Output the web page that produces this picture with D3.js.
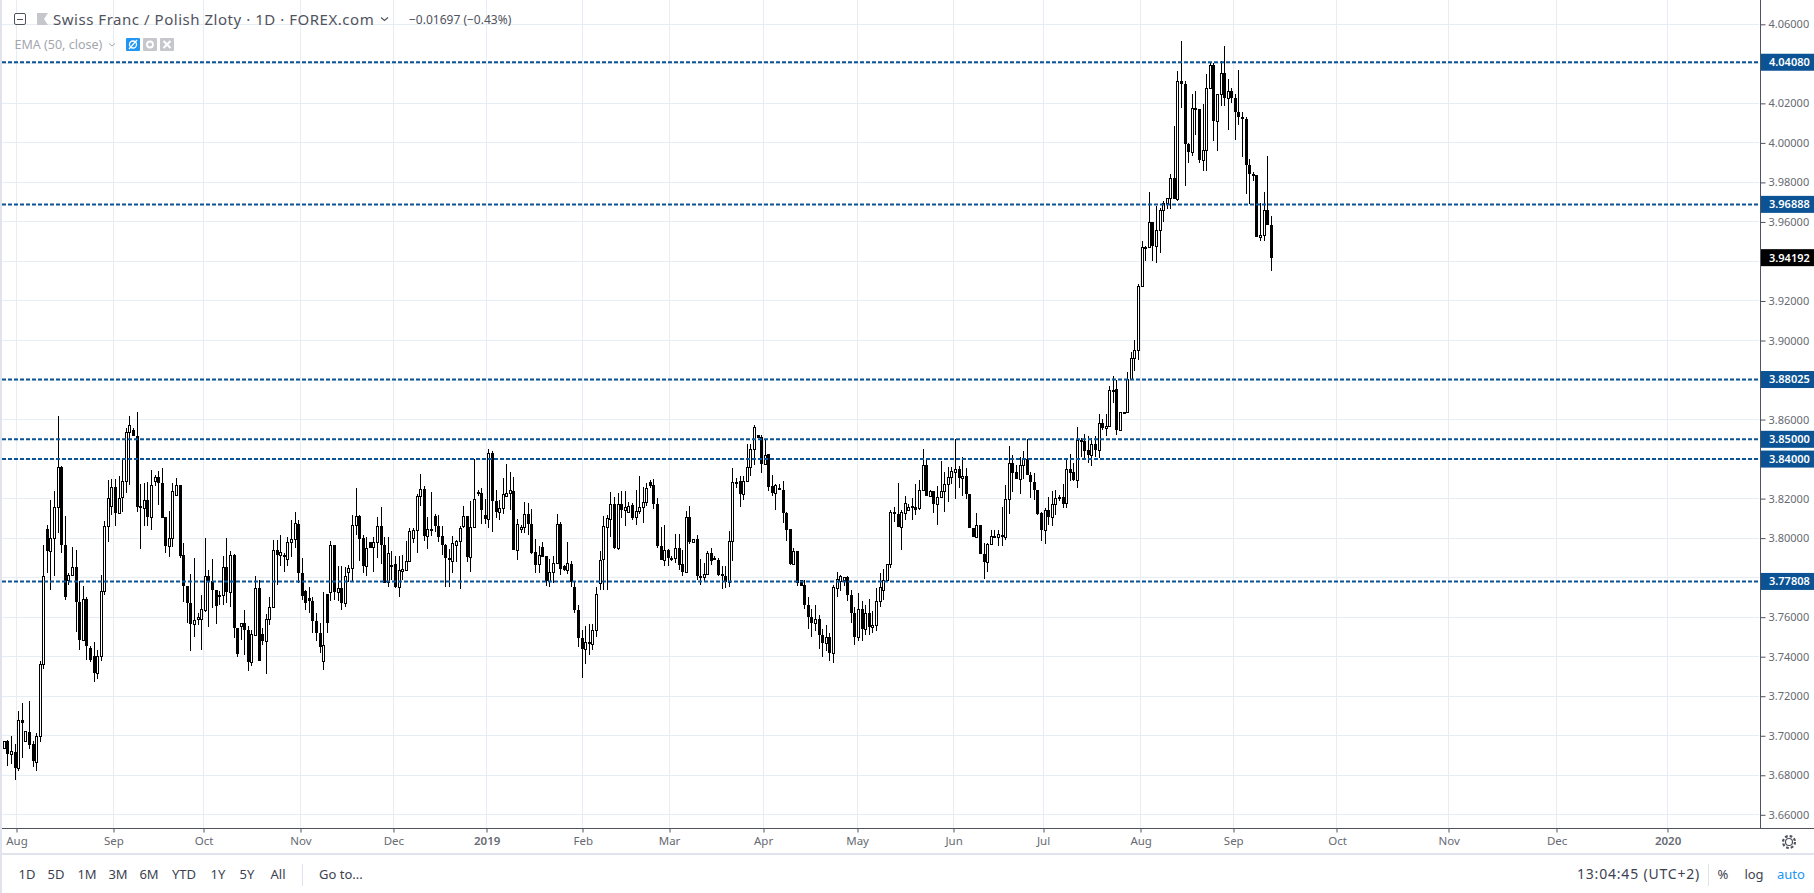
<!DOCTYPE html>
<html>
<head>
<meta charset="utf-8">
<title>CHF/PLN</title>
<script src="https://cdn.jsdelivr.net/npm/d3@7"></script>
<style>
html, body { margin: 0; padding: 0; background: #fff; overflow: hidden; }
text { font-family: "Noto Sans", sans-serif; }
</style>
</head>
<body>
<svg id="chart" width="1814" height="893"></svg>
<script>
// daily candles
var opens = [
3.6938,3.6971,3.6907,3.6919,3.6836,3.7081,3.6975,3.7020,3.6956,3.6867,
3.6997,3.7362,3.8046,3.7933,3.8000,3.8157,3.8359,3.7965,3.7789,3.7811,
3.7853,3.7679,3.7482,3.7691,3.7443,3.7404,3.7317,3.7404,3.7730,3.8059,
3.8165,3.8258,3.8127,3.8207,3.8287,3.8535,3.8548,3.8515,3.8164,3.8152,
3.8194,3.8106,3.8288,3.8309,3.8278,3.8106,3.7958,3.8000,3.8218,3.8270,
3.7914,3.7760,3.7674,3.7565,3.7593,3.7593,3.7634,3.7806,3.7781,3.7735,
3.7710,3.7710,3.7853,3.7725,3.7914,3.7544,3.7553,3.7570,3.7536,3.7371,
3.7511,3.7747,3.7516,3.7477,3.7590,3.7654,3.7941,3.7914,3.7914,3.7894,
3.7980,3.7995,3.8070,
3.7823,3.7733,3.7696,3.7680,3.7580,3.7520,3.7380,3.7718,3.7725,3.7963,
3.7725,3.7747,3.7671,3.7831,3.7848,3.8066,3.8113,3.8000,3.7857,3.7978,
3.7954,3.7978,3.8062,3.7966,3.7779,3.7860,3.7868,3.7752,3.7836,3.7840,
3.7884,3.8000,3.8042,3.8211,3.8250,3.8013,3.8046,3.8113,3.8062,3.8012,
3.7966,3.7899,3.7882,3.7963,3.7983,3.8059,3.8113,3.7907,3.8056,3.8228,
3.8228,3.8118,3.8096,3.8430,3.8189,3.8130,3.8152,3.8214,3.8228,3.8238,
3.7941,3.8046,3.8056,3.8121,3.8073,3.7931,3.7867,3.7954,3.7911,3.7782,
3.7830,3.7873,3.8071,3.7860,3.7840,3.7868,3.7755,3.7637,3.7495,3.7440,
3.7475,3.7465,3.7535,3.7772,
3.7894,3.8056,3.8096,3.8172,3.7951,3.8172,3.8140,3.8132,3.8169,3.8106,
3.8135,3.8160,3.8181,3.8283,3.8270,3.8172,3.7958,3.7887,3.7941,3.7900,
3.7899,3.7949,3.7870,3.7831,3.8106,3.7978,3.7995,3.7806,3.7803,3.7818,
3.7924,3.7899,3.7890,3.7819,3.7806,3.7776,3.7983,3.8286,3.8287,3.8223,
3.8287,3.8359,3.8450,3.8521,3.8511,3.8373,3.8425,3.8265,3.8228,3.8253,
3.8245,3.8127,3.8046,3.7870,3.7936,3.7786,3.7764,
3.7660,3.7600,3.7570,3.7590,3.7510,3.7470,3.7500,3.7420,3.7747,3.7781,
3.7789,3.7801,3.7713,3.7620,3.7500,3.7640,3.7540,3.7620,3.7550,3.7560,
3.7680,
3.7735,3.7786,3.7868,3.8132,3.8123,3.8056,3.8127,3.8143,3.8157,3.8160,
3.8150,3.8241,3.8369,3.8211,3.8240,3.8172,3.8207,3.8236,3.8273,3.8309,
3.8337,3.8349,3.8304,3.8315,3.8223,3.8051,3.8008,3.8066,3.7919,3.7877,
3.7970,3.8013,3.8005,3.8012,3.8008,3.8197,3.8380,3.8336,3.8299,3.8369,
3.8400,3.8321,3.8282,3.8245,3.8127,3.8042,3.8143,3.8105,3.8172,3.8206,
3.8207,3.8177,3.8349,3.8336,3.8292,3.8498,3.8489,3.8447,3.8422,3.8477,
3.8444,3.8582,3.8557,3.8565,3.8747,3.8754,3.8545,3.8638,3.8638,3.8806,
3.8911,3.8953,
3.9275,3.9472,3.9475,3.9600,3.9477,3.9560,3.9661,3.9696,
3.9722,3.9823,3.9717,4.0312,4.0299,3.9995,3.9953,4.0177,4.0172,3.9911,
3.9965,4.0278,4.0396,4.0113,4.0245,4.0354,4.0226,4.0261,4.0226,4.0155,
4.0133,4.0121,3.9889,3.9843,3.9835,3.9523,3.9534,3.9661,3.9585];

var highs = [
3.6975,3.6980,3.6997,3.6960,3.7123,3.7164,3.7025,3.7174,3.6971,3.7012,
3.7376,3.7966,3.8066,3.8194,3.8240,3.8619,3.8363,3.8113,3.7823,3.7954,
3.7941,3.7781,3.7759,3.7701,3.7452,3.7475,3.7435,3.7814,3.8086,3.8295,
3.8299,3.8299,3.8312,3.8405,3.8557,3.8619,3.8557,3.8639,3.8275,3.8278,
3.8282,3.8346,3.8321,3.8341,3.8356,3.8106,3.8137,3.8278,3.8305,3.8270,
3.7975,3.7760,3.7820,3.7899,3.7620,3.7713,3.8000,3.7840,3.7894,3.7735,
3.7730,3.7911,3.8000,3.7936,3.7921,3.7544,3.7573,3.7637,3.7556,3.7536,
3.7809,3.7789,3.7545,3.7615,3.7701,3.7992,3.7992,3.8017,3.7924,3.8005,
3.8093,3.8133,3.8093,
3.7899,3.7738,3.7755,3.7700,3.7620,3.7570,3.7727,3.7718,3.7983,3.7963,
3.7857,3.7857,3.7853,3.7865,3.8118,3.8255,3.8118,3.8017,3.8005,3.7978,
3.8005,3.8106,3.8160,3.8005,3.8005,3.7933,3.7911,3.7911,3.7916,3.7987,
3.8051,3.8049,3.8224,3.8326,3.8265,3.8106,3.8234,3.8123,3.8118,3.8062,
3.7971,3.7944,3.8012,3.7992,3.8059,3.8164,3.8113,3.8189,3.8402,3.8241,
3.8253,3.8197,3.8450,3.8439,3.8245,3.8194,3.8304,3.8376,3.8336,3.8309,
3.8096,3.8067,3.8184,3.8177,3.8148,3.7997,3.7961,3.7978,3.7911,3.7894,
3.7911,3.8121,3.8081,3.7863,3.7978,3.7885,3.7781,3.7660,3.7533,3.7553,
3.7565,3.7565,3.7755,3.7936,
3.8110,3.8118,3.8233,3.8207,3.8228,3.8236,3.8236,3.8181,3.8177,3.8245,
3.8315,3.8258,3.8278,3.8295,3.8299,3.8202,3.8054,3.8067,3.7944,3.7912,
3.8022,3.8022,3.7941,3.8135,3.8164,3.7995,3.8015,3.7894,3.7873,3.7933,
3.7949,3.7911,3.7899,3.7857,3.7860,3.8034,3.8354,3.8304,3.8315,3.8315,
3.8476,3.8477,3.8574,3.8521,3.8521,3.8494,3.8425,3.8320,3.8273,3.8273,
3.8290,3.8132,3.8046,3.7949,3.7936,3.7786,3.7786,
3.7700,3.7640,3.7660,3.7610,3.7540,3.7560,3.7520,3.7764,3.7828,3.7814,
3.7805,3.7806,3.7740,3.7650,3.7720,3.7680,3.7660,3.7690,3.7630,3.7750,
3.7823,
3.7843,3.7870,3.8140,3.8157,3.8278,3.8140,3.8214,3.8174,3.8202,3.8273,
3.8295,3.8452,3.8405,3.8245,3.8240,3.8265,3.8391,3.8337,3.8359,3.8358,
3.8501,3.8363,3.8410,3.8354,3.8223,3.8051,3.8127,3.8066,3.7975,3.7975,
3.8042,3.8042,3.8042,3.8157,3.8270,3.8464,3.8422,3.8371,3.8413,3.8439,
3.8501,3.8337,3.8329,3.8245,3.8130,3.8152,3.8206,3.8236,3.8241,3.8219,
3.8273,3.8393,3.8427,3.8380,3.8562,3.8506,3.8528,3.8515,3.8506,3.8515,
3.8628,3.8602,3.8628,3.8771,3.8818,3.8801,3.8638,3.8638,3.8840,3.8941,
3.9004,3.9285,
3.9501,3.9480,3.9752,3.9600,3.9683,3.9669,3.9708,3.9722,
3.9840,4.0083,4.0366,4.0513,4.0315,3.9998,4.0245,4.0260,4.0172,4.0197,
4.0346,4.0405,4.0405,4.0248,4.0413,4.0488,4.0324,4.0278,4.0245,4.0369,
4.0155,4.0133,3.9916,3.9855,3.9835,3.9695,3.9752,3.9934,3.9632];

var lows = [
3.6934,3.6846,3.6855,3.6774,3.6821,3.6885,3.6966,3.6933,3.6841,3.6821,
3.6966,3.7339,3.7823,3.7739,3.7809,3.8025,3.7927,3.7688,3.7764,3.7811,
3.7523,3.7435,3.7482,3.7384,3.7371,3.7270,3.7286,3.7376,3.7713,3.7978,
3.8118,3.8059,3.8127,3.8130,3.8228,3.8270,3.8515,3.8130,3.7944,3.8062,
3.8062,3.8042,3.8265,3.8169,3.8100,3.7924,3.7907,3.7954,3.8218,3.7899,
3.7679,3.7570,3.7431,3.7502,3.7558,3.7435,3.7624,3.7548,3.7646,3.7565,
3.7663,3.7663,3.7671,3.7654,3.7494,3.7398,3.7485,3.7410,3.7330,3.7354,
3.7511,3.7376,3.7460,3.7313,3.7561,3.7654,3.7764,3.7857,3.7831,3.7857,
3.7907,3.7949,3.7772,
3.7688,3.7637,3.7620,3.7520,3.7480,3.7420,3.7335,3.7520,3.7680,3.7688,
3.7680,3.7637,3.7650,3.7776,3.7776,3.8017,3.7882,3.7823,3.7809,3.7949,
3.7831,3.7899,3.7870,3.7772,3.7752,3.7789,3.7747,3.7700,3.7786,3.7840,
3.7884,3.7975,3.7927,3.8164,3.7987,3.7946,3.8013,3.8029,3.7978,3.7916,
3.7755,3.7752,3.7826,3.7877,3.7744,3.8051,3.7877,3.7831,3.8056,3.8211,
3.8071,3.8073,3.8051,3.8029,3.8101,3.8093,3.8123,3.8211,3.8140,3.7941,
3.7887,3.8025,3.8025,3.8017,3.7921,3.7826,3.7826,3.7907,3.7760,3.7755,
3.7772,3.7873,3.7814,3.7836,3.7819,3.7755,3.7620,3.7447,3.7290,3.7362,
3.7410,3.7435,3.7500,3.7739,
3.7739,3.7739,3.8008,3.7946,3.7941,3.8101,3.8059,3.8127,3.8093,3.8064,
3.8121,3.8079,3.8164,3.8256,3.8147,3.7949,3.7887,3.7857,3.7857,3.7885,
3.7873,3.7840,3.7806,3.7826,3.7971,3.7975,3.7786,3.7764,3.7784,3.7818,
3.7865,3.7887,3.7806,3.7745,3.7750,3.7755,3.7882,3.8253,3.8155,3.8191,
3.8287,3.8315,3.8371,3.8506,3.8332,3.8373,3.8236,3.8211,3.8143,3.8241,
3.8079,3.7983,3.7865,3.7865,3.7759,3.7759,3.7640,
3.7540,3.7500,3.7530,3.7440,3.7400,3.7430,3.7380,3.7370,3.7700,3.7730,
3.7760,3.7680,3.7570,3.7460,3.7480,3.7480,3.7510,3.7510,3.7520,3.7530,
3.7654,
3.7688,3.7786,3.7848,3.8084,3.8056,3.7938,3.8093,3.8135,3.8093,3.8118,
3.8140,3.8241,3.8211,3.8211,3.8127,3.8064,3.8207,3.8130,3.8181,3.8273,
3.8197,3.8253,3.8214,3.8197,3.8051,3.8005,3.8005,3.7919,3.7792,3.7831,
3.7970,3.8005,3.7958,3.7958,3.7992,3.8123,3.8231,3.8299,3.8224,3.8299,
3.8319,3.8201,3.8194,3.8118,3.7983,3.7970,3.8067,3.8059,3.8118,3.8186,
3.8152,3.8152,3.8287,3.8287,3.8256,3.8413,3.8400,3.8380,3.8366,3.8410,
3.8405,3.8548,3.8515,3.8562,3.8683,3.8523,3.8540,3.8633,3.8638,3.8806,
3.8844,3.8903,
3.9275,3.9401,3.9470,3.9404,3.9393,3.9442,3.9598,3.9663,
3.9666,3.9717,3.9708,4.0175,3.9784,3.9897,3.9936,4.0042,3.9897,3.9860,
3.9857,4.0278,4.0012,3.9958,4.0189,4.0189,4.0067,4.0201,4.0017,4.0088,
3.9927,3.9742,3.9691,3.9809,3.9523,3.9506,3.9502,3.9582,3.9351];

var closes = [
3.6971,3.6907,3.6921,3.6836,3.7081,3.7064,3.7025,3.6953,3.6872,3.6997,
3.7362,3.7806,3.7933,3.8000,3.8157,3.8359,3.7965,3.7700,3.7811,3.7853,
3.7679,3.7482,3.7691,3.7452,3.7381,3.7317,3.7404,3.7730,3.8059,3.8202,
3.8258,3.8127,3.8202,3.8287,3.8535,3.8570,3.8515,3.8160,3.8150,3.8191,
3.8106,3.8270,3.8309,3.8278,3.8100,3.7958,3.8000,3.8236,3.8268,3.7911,
3.7760,3.7674,3.7565,3.7587,3.7602,3.7641,3.7806,3.7781,3.7735,3.7659,
3.7706,3.7853,3.7725,3.7914,3.7544,3.7415,3.7570,3.7533,3.7371,3.7516,
3.7747,3.7376,3.7477,3.7590,3.7651,3.7941,3.7917,3.7929,3.7907,3.7980,
3.7995,3.8076,3.7823,
3.7705,3.7671,3.7680,3.7580,3.7520,3.7450,3.7460,3.7570,3.7963,3.7725,
3.7747,3.7671,3.7806,3.7848,3.8066,3.8113,3.7998,3.7857,3.7949,3.7949,
3.7978,3.8059,3.7963,3.7772,3.7924,3.7863,3.7752,3.7840,3.7846,3.7884,
3.8035,3.8042,3.8214,3.8250,3.8013,3.8046,3.8047,3.8059,3.8008,3.7963,
3.7899,3.7894,3.7975,3.7983,3.8051,3.8113,3.7907,3.8056,3.8197,3.8233,
3.8140,3.8096,3.8430,3.8186,3.8130,3.8152,3.8223,3.8228,3.8243,3.7941,
3.8071,3.8056,3.8121,3.8071,3.7927,3.7865,3.7914,3.7907,3.7782,3.7830,
3.7873,3.8071,3.7843,3.7840,3.7873,3.7779,3.7637,3.7495,3.7440,3.7475,
3.7465,3.7535,3.7718,3.7890,
3.8059,3.8101,3.8172,3.7951,3.8172,3.8140,3.8160,3.8165,3.8103,3.8135,
3.8160,3.8181,3.8253,3.8265,3.8172,3.7958,3.7887,3.7941,3.7900,3.7899,
3.7948,3.7865,3.7831,3.8106,3.7978,3.7995,3.7806,3.7803,3.7820,3.7924,
3.7882,3.7887,3.7814,3.7806,3.7776,3.7983,3.8283,3.8283,3.8224,3.8287,
3.8359,3.8450,3.8562,3.8509,3.8373,3.8420,3.8261,3.8228,3.8270,3.8241,
3.8125,3.8042,3.7870,3.7936,3.7772,3.7760,3.7660,
3.7600,3.7570,3.7590,3.7510,3.7470,3.7500,3.7420,3.7755,3.7793,3.7806,
3.7801,3.7713,3.7620,3.7500,3.7640,3.7540,3.7620,3.7550,3.7560,3.7680,
3.7755,
3.7786,3.7870,3.8132,3.8120,3.8056,3.8130,3.8177,3.8155,3.8162,3.8143,
3.8241,3.8369,3.8211,3.8236,3.8172,3.8207,3.8236,3.8273,3.8309,3.8341,
3.8348,3.8302,3.8312,3.8223,3.8051,3.8008,3.8066,3.7919,3.7877,3.7970,
3.8013,3.8005,3.8019,3.8017,3.8197,3.8380,3.8332,3.8299,3.8369,3.8400,
3.8319,3.8282,3.8241,3.8123,3.8042,3.8143,3.8105,3.8174,3.8202,3.8204,
3.8174,3.8349,3.8332,3.8292,3.8498,3.8486,3.8442,3.8422,3.8476,3.8444,
3.8582,3.8557,3.8569,3.8747,3.8751,3.8545,3.8638,3.8636,3.8806,3.8911,
3.8953,3.9278,
3.9472,3.9475,3.9600,3.9477,3.9560,3.9661,3.9696,3.9722,
3.9823,3.9717,4.0312,4.0299,3.9995,3.9953,4.0177,4.0170,3.9911,3.9965,
4.0278,4.0396,4.0113,4.0245,4.0354,4.0226,4.0261,4.0226,4.0155,4.0130,
4.0121,3.9889,3.9843,3.9831,3.9523,3.9534,3.9661,3.9582,3.9416];

var priceTicks = [4.06,4.04,4.02,4.00,3.98,3.96,3.94,3.92,3.90,3.88,3.86,3.84,3.82,3.80,3.78,3.76,3.74,3.72,3.70,3.68,3.66];
var levels = [4.0408, 3.96888, 3.88025, 3.85, 3.84, 3.77808];
var lastPrice = 3.94192;

// month starts, in bar numbers
var tickBars = [3.4,30.4,55.5,82.5,108.4,134.4,161.2,185.2,211.4,237.6,264.5,289.4,316.6,342.4,371.3,402.4,432.5,463.4];
var tickLabels = ["Aug","Sep","Oct","Nov","Dec","2019","Feb","Mar","Apr","May","Jun","Jul","Aug","Sep","Oct","Nov","Dec","2020"];

var ranges = ["1D","5D","1M","3M","6M","YTD","1Y","5Y","All"];
var rangeX = [27,56,87,118,149,184,218,247,278];

var svg = d3.select("#chart");
var plotRight = 1759, axisX = 1761, axisY = 829;

var x = d3.scaleLinear().domain([0, opens.length - 1]).range([4.3, 1271.3]);
var y = d3.scaleLinear().domain([4.06, 3.66]).range([24.3, 814.8]);
var snap = function (v) { return Math.floor(v) + 0.5; };

// grid
var grid = svg.append("g").attr("stroke", "#e6edf4").attr("stroke-width", 1);
grid.selectAll(".h").data(priceTicks).enter().append("line")
	.attr("x1", 2).attr("x2", plotRight)
	.attr("y1", d => snap(y(d))).attr("y2", d => snap(y(d)));
grid.selectAll(".v").data(tickBars).enter().append("line")
	.attr("x1", d => snap(x(d))).attr("x2", d => snap(x(d)))
	.attr("y1", 0).attr("y2", axisY);

// candles
var bars = svg.append("g").attr("shape-rendering", "crispEdges");
opens.forEach(function (open, i) {
	var cx = Math.floor(x(i));
	var top = Math.round(y(Math.max(open, closes[i])));
	var bottom = Math.round(y(Math.min(open, closes[i])));
	bars.append("rect").attr("x", cx).attr("width", 1)
		.attr("y", Math.round(y(highs[i])))
		.attr("height", Math.max(1, Math.round(y(lows[i])) - Math.round(y(highs[i]))))
		.attr("fill", "#000");
	if (closes[i] >= open) {
		bars.append("rect").attr("x", cx - 0.5).attr("width", 2)
			.attr("y", top + 0.5).attr("height", Math.max(1, bottom - top))
			.attr("fill", "#fff").attr("stroke", "#000");
	} else {
		bars.append("rect").attr("x", cx - 1).attr("width", 3)
			.attr("y", top).attr("height", Math.max(2, bottom - top))
			.attr("fill", "#000");
	}
});

// horizontal levels
svg.append("g").selectAll("line").data(levels).enter().append("line")
	.attr("x1", 2).attr("x2", plotRight)
	.attr("y1", d => y(d)).attr("y2", d => y(d))
	.attr("stroke", "#0b5394").attr("stroke-width", 2).attr("stroke-dasharray", "4 2");

// price axis, ticks under a price label are not shown
var labelled = levels.concat([lastPrice]);
var shownTicks = priceTicks.filter(t => !labelled.some(l => Math.abs(y(l) - y(t)) < 9));
var yAxis = d3.axisRight(y).tickValues(shownTicks).tickFormat(d3.format(".5f")).tickSize(5).tickPadding(3).tickSizeOuter(0);
var yg = svg.append("g").attr("transform", "translate(" + (axisX - 0.5) + ",0)").call(yAxis);
yg.select(".domain").remove();
yg.selectAll("line").attr("stroke", "#50535e");
yg.selectAll("text").attr("fill", "#666a72").attr("font-size", 11);
svg.append("line").attr("x1", axisX - 0.5).attr("x2", axisX - 0.5).attr("y1", 0).attr("y2", axisY)
	.attr("stroke", "#50535e").attr("stroke-width", 1);

// price labels
function priceLabel(value, color) {
	var g = svg.append("g").attr("transform", "translate(" + axisX + "," + y(value) + ")");
	g.append("rect").attr("x", 0).attr("y", -8.5).attr("width", 53).attr("height", 17).attr("fill", color);
	g.append("text").attr("x", 8).attr("dy", "0.35em").attr("font-size", 11).attr("font-weight", 600).attr("fill", "#fff")
		.text(d3.format(".5f")(value));
}
levels.forEach(function (d) { priceLabel(d, "#0b5394"); });
priceLabel(lastPrice, "#000");

// time axis
var xAxis = d3.axisBottom(x).tickValues(tickBars).tickFormat(function (d, i) { return tickLabels[i]; }).tickSize(4).tickPadding(4).tickSizeOuter(0);
var xg = svg.append("g").attr("transform", "translate(0," + (axisY - 0.5) + ")").call(xAxis);
xg.select(".domain").remove();
xg.selectAll("line").attr("stroke", "#50535e").attr("x1", d => snap(x(d)) - x(d)).attr("x2", d => snap(x(d)) - x(d));
xg.selectAll("text").attr("fill", "#666a72").attr("font-size", 11.5)
	.attr("font-weight", (d, i) => tickLabels[i] == "2019" || tickLabels[i] == "2020" ? 600 : 400);
svg.append("line").attr("x1", 2).attr("x2", 1814).attr("y1", axisY - 0.5).attr("y2", axisY - 0.5).attr("stroke", "#50535e");

// frame
svg.append("rect").attr("x", 0).attr("y", 0).attr("width", 2).attr("height", 893).attr("fill", "#e0e3eb");
svg.append("rect").attr("x", 0).attr("y", 853).attr("width", 1814).attr("height", 2).attr("fill", "#e0e3eb");

// legend
svg.append("rect").attr("x", 14.5).attr("y", 13.5).attr("width", 11).attr("height", 11).attr("rx", 1.5)
	.attr("fill", "#fff").attr("stroke", "#50535e");
svg.append("line").attr("x1", 17).attr("x2", 23).attr("y1", 19.5).attr("y2", 19.5).attr("stroke", "#50535e");
svg.append("path").attr("d", "M37 13H48L44 19L48 25H37Z").attr("fill", "#c5c7cd");
svg.append("text").attr("x", 53).attr("y", 24.5).attr("font-size", 15).attr("letter-spacing", 0.53).attr("fill", "#50535e").text("Swiss Franc / Polish Zloty · 1D · FOREX.com");
svg.append("path").attr("d", "M381 17.5L384.5 20.5L388 17.5").attr("fill", "none").attr("stroke", "#50535e").attr("stroke-width", 1.2);
svg.append("text").attr("x", 409).attr("y", 24).attr("font-size", 12).attr("fill", "#50535e").text("−0.01697 (−0.43%)");
svg.append("text").attr("x", 14.5).attr("y", 49).attr("font-size", 12.5).attr("fill", "#a3a6af").text("EMA (50, close)");
svg.append("path").attr("d", "M109 43.5L112 46L115 43.5").attr("fill", "none").attr("stroke", "#a3a6af");

// legend buttons
svg.append("rect").attr("x", 126).attr("y", 38).attr("width", 14).attr("height", 13).attr("rx", 1).attr("fill", "#2196f3");
svg.append("circle").attr("cx", 133).attr("cy", 44.5).attr("r", 3.5).attr("fill", "none").attr("stroke", "#fff").attr("stroke-width", 1.3);
svg.append("line").attr("x1", 129).attr("x2", 137).attr("y1", 49).attr("y2", 40).attr("stroke", "#fff").attr("stroke-width", 1.2);
svg.append("rect").attr("x", 143).attr("y", 38).attr("width", 14).attr("height", 13).attr("rx", 1).attr("fill", "#c5c7cd");
svg.append("circle").attr("cx", 150).attr("cy", 44.5).attr("r", 3).attr("fill", "none").attr("stroke", "#fff").attr("stroke-width", 1.8);
svg.append("rect").attr("x", 160).attr("y", 38).attr("width", 14).attr("height", 13).attr("rx", 1).attr("fill", "#c5c7cd");
svg.append("path").attr("d", "M163.5 41L170.5 48M170.5 41L163.5 48").attr("stroke", "#fff").attr("stroke-width", 2);

// bottom toolbar
var bar = svg.append("g").attr("font-size", 13).attr("fill", "#3d4250");
ranges.forEach(function (r, i) {
	bar.append("text").attr("x", rangeX[i]).attr("y", 879).attr("text-anchor", "middle").text(r);
});
svg.append("line").attr("x1", 302.5).attr("x2", 302.5).attr("y1", 864).attr("y2", 886).attr("stroke", "#e0e3eb");
bar.append("text").attr("x", 319).attr("y", 879).text("Go to...");
bar.append("text").attr("x", 1700).attr("y", 879).attr("text-anchor", "end").attr("font-size", 14).attr("letter-spacing", 0.8).text("13:04:45 (UTC+2)");
svg.append("line").attr("x1", 1708.5).attr("x2", 1708.5).attr("y1", 864).attr("y2", 886).attr("stroke", "#e0e3eb");
bar.append("text").attr("x", 1723).attr("y", 879).attr("text-anchor", "middle").text("%");
bar.append("text").attr("x", 1754).attr("y", 879).attr("text-anchor", "middle").text("log");
bar.append("text").attr("x", 1791).attr("y", 879).attr("text-anchor", "middle").attr("fill", "#2196f3").text("auto");

// settings gear
var gear = svg.append("g").attr("transform", "translate(1789,842)").attr("fill", "none").attr("stroke", "#50535e");
gear.append("circle").attr("r", 3.5).attr("stroke-width", 1.2);
gear.append("circle").attr("r", 6).attr("stroke-width", 2.2).attr("stroke-dasharray", "2.7 2");
</script>
</body>
</html>
